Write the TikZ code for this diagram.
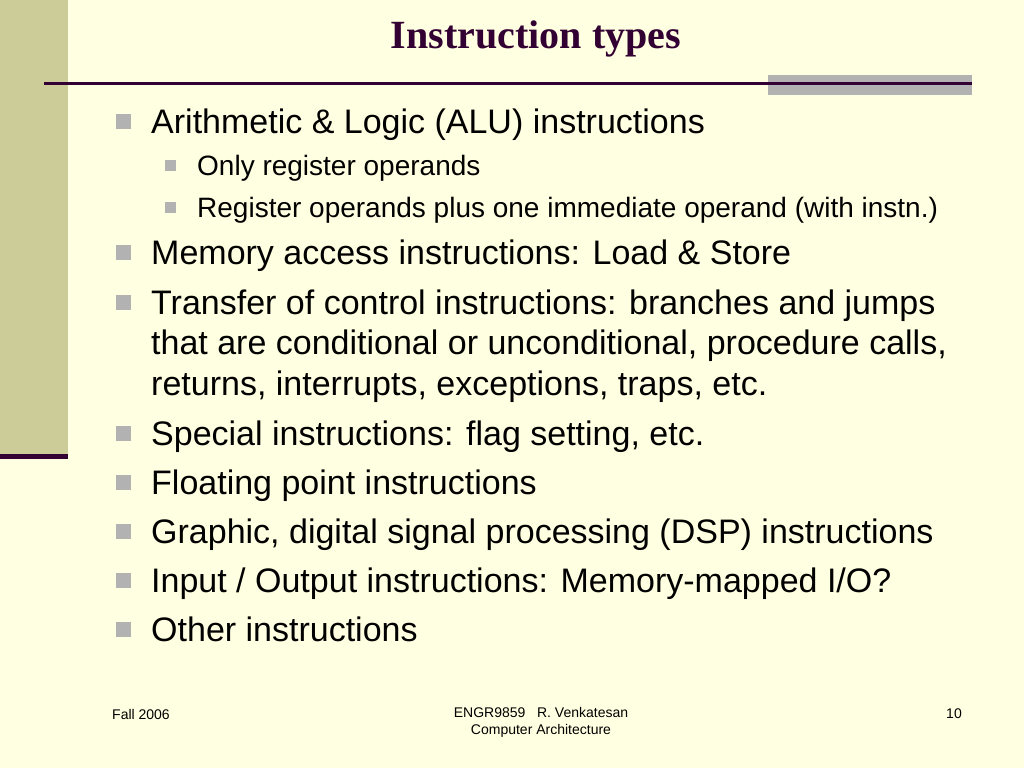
\documentclass[tikz,border=0pt]{standalone}
\usepackage{fontspec}
\setmainfont{Liberation Sans}
\newfontfamily\titlefont{Liberation Serif}
\definecolor{bg}{HTML}{FFFFE1}
\definecolor{olive}{HTML}{CCCC99}
\definecolor{plum}{HTML}{330033}
\definecolor{bul}{HTML}{B2B2B2}
\begin{document}
\begin{tikzpicture}[x=1pt,y=-1pt,
  main/.style={anchor=base west,inner sep=0,font=\fontsize{34}{34}\selectfont},
  sub/.style={anchor=base west,inner sep=0,font=\fontsize{28}{28}\selectfont},
  foot/.style={inner sep=0,font=\fontsize{14}{17}\selectfont,align=center}]
\fill[bg] (0,0) rectangle (1024,768);
\useasboundingbox (0,0) rectangle (1024,768);
\fill[olive] (0,0) rectangle (68,455);
\fill[plum] (0,454) rectangle (68,459);
\fill[bul] (768,75) rectangle (972,95);
\fill[plum] (44,82) rectangle (972,85);
\node[inner sep=0,font=\titlefont\bfseries\fontsize{40}{40}\selectfont,text=plum] (title) at (536,39) {Instruction types};
\foreach \y/\t [count=\i] in {133/{Arithmetic \& Logic (ALU) instructions},
  264/{Memory access instructions: Load \& Store},
  314/{Transfer of control instructions: branches and jumps},
  445/{Special instructions: flag setting, etc.},
  494/{Floating point instructions},
  543/{Graphic, digital signal processing (DSP) instructions},
  592/{Input / Output instructions: Memory-mapped I/O?},
  641/{Other instructions}}{
  \fill[bul] (116,{\y-19}) rectangle ++(15,15);
  \node[main] (m\i) at (151,\y) {\t};
}
\node[main] (c1) at (151,354) {that are conditional or unconditional, procedure calls,};
\node[main] (c2) at (151,395) {returns, interrupts, exceptions, traps, etc.};
\foreach \y/\t [count=\i] in {175/{Only register operands},217/{Register operands plus one immediate operand (with instn.)}}{
  \fill[bul] (165,{\y-15}) rectangle ++(11,11);
  \node[sub] (s\i) at (197,\y) {\t};
}
\node[foot,anchor=west] (f1) at (112,714) {Fall 2006};
\node[foot] (f2) at (541,722) {ENGR9859\ \ \ R. Venkatesan\\Computer Architecture};
\node[foot,anchor=east] (f3) at (962,714) {10};
\end{tikzpicture}
\end{document}
